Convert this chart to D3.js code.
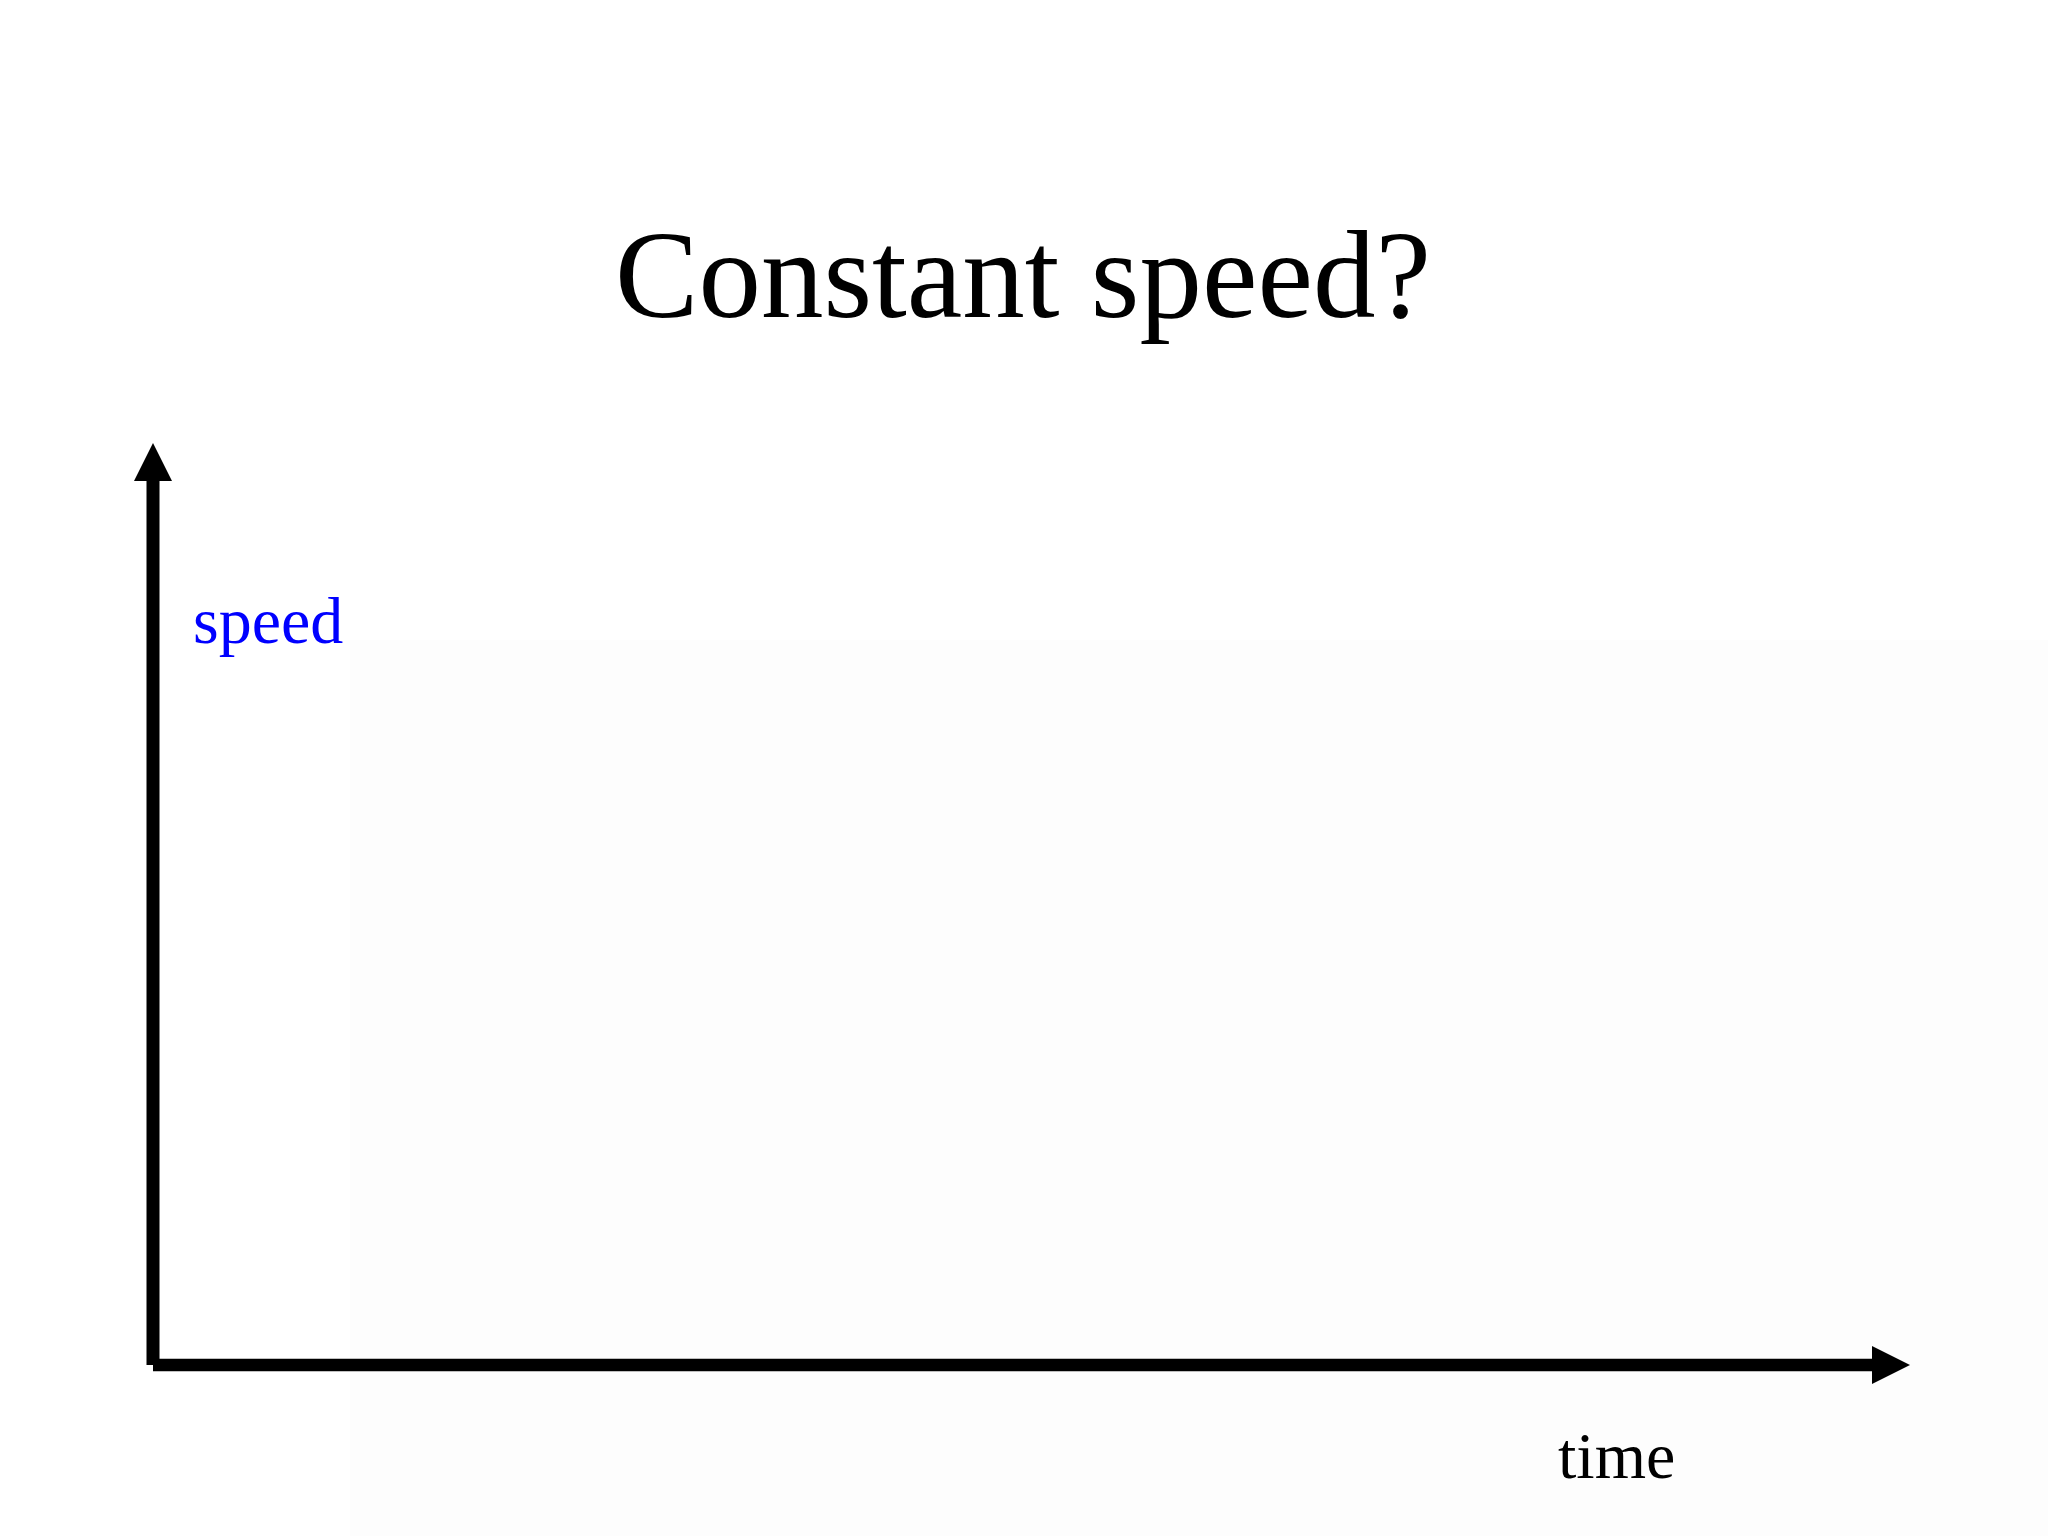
<!DOCTYPE html>
<html>
<head>
<meta charset="utf-8">
<script src="https://cdn.jsdelivr.net/npm/d3@7"></script>
<style>
  html, body { margin: 0; padding: 0; background: #fff; }
  svg { display: block; }
</style>
</head>
<body>
<div id="chart"></div>
<script>
// chart content (no data series, just the empty axes)
const titleText = "Constant speed?";
const axisLabels = ["time", "speed"];   // x, y
const axisDomain = [0, 1];

function drawChart() {
    const width = 2048;
    const height = 1536;

    const svg = d3.select("#chart")
        .append("svg")
        .attr("width", width)
        .attr("height", height);

    // faint paper tint seen in the lower right of the slide
    svg.append("rect")
        .attr("x", 350)
        .attr("y", 640)
        .attr("width", width - 350)
        .attr("height", height - 640)
        .attr("fill", "#fdfdfd");

    const x = d3.scaleLinear().domain(axisDomain).range([153, 1910]);
    const y = d3.scaleLinear().domain(axisDomain).range([1365, 443]);

    const headLen = 38;   // arrow head length
    const headHalf = 19;  // arrow head half width

    const axes = svg.append("g");

    // x axis shaft + head
    axes.append("line")
        .attr("x1", x(0)).attr("y1", y(0))
        .attr("x2", x(1) - headLen + 1).attr("y2", y(0))
        .attr("stroke", "#000")
        .attr("stroke-width", 12.5);
    axes.append("path")
        .attr("d", d3.line()([
            [x(1), y(0)],
            [x(1) - headLen, y(0) - headHalf],
            [x(1) - headLen, y(0) + headHalf]
        ]) + "Z")
        .attr("fill", "#000");

    // y axis shaft + head
    axes.append("line")
        .attr("x1", x(0)).attr("y1", y(0))
        .attr("x2", x(0)).attr("y2", y(1) + headLen - 1)
        .attr("stroke", "#000")
        .attr("stroke-width", 13);
    axes.append("path")
        .attr("d", d3.line()([
            [x(0), y(1)],
            [x(0) - headHalf, y(1) + headLen],
            [x(0) + headHalf, y(1) + headLen]
        ]) + "Z")
        .attr("fill", "#000");

    const serif = "'Liberation Serif', 'Times New Roman', 'DejaVu Serif', serif";

    // title
    svg.append("text")
        .attr("x", 1023)
        .attr("y", 317)
        .attr("text-anchor", "middle")
        .style("font-family", serif)
        .style("font-size", "125px")
        .attr("fill", "#000")
        .text(titleText);

    // x label
    svg.append("text")
        .attr("x", 1558)
        .attr("y", 1478)
        .style("font-family", serif)
        .style("font-size", "66px")
        .attr("fill", "#000")
        .text(axisLabels[0]);

    // y label
    svg.append("text")
        .attr("x", 193)
        .attr("y", 643)
        .style("font-family", serif)
        .style("font-size", "66px")
        .attr("fill", "#0000ff")
        .text(axisLabels[1]);
}

window.onload = drawChart;
</script>
</body>
</html>
